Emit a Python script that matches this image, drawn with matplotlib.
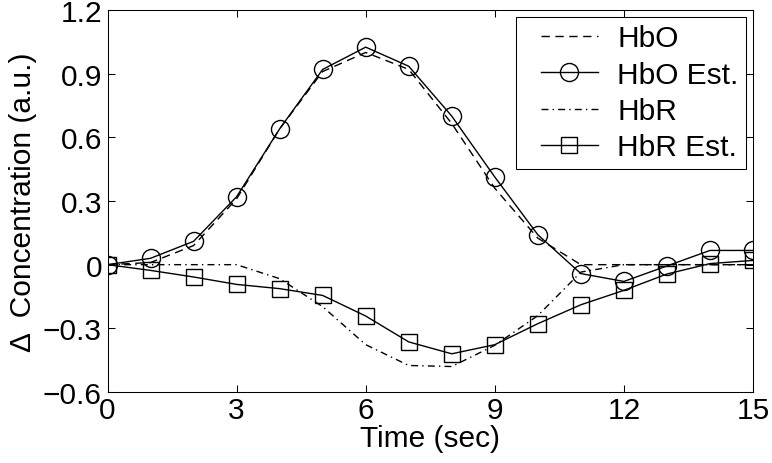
import numpy as np
import matplotlib
matplotlib.use("Agg")
import matplotlib.pyplot as plt
from matplotlib.lines import Line2D
from matplotlib.legend_handler import HandlerLine2D

# time axis (sec)
t = [0, 1, 2, 3, 4, 5, 6, 7, 8, 9, 10, 11, 12, 13, 14, 15]

# true and estimated responses
hbo_true = [0.0, 0.01, 0.09, 0.31, 0.64, 0.91, 1.0, 0.92, 0.665, 0.36, 0.125, 0.0, 0.0, 0.0, 0.0, 0.0]
hbo_est = [0.0, 0.03, 0.11, 0.32, 0.64, 0.92, 1.025, 0.935, 0.70, 0.413, 0.141, -0.042, -0.079, -0.006, 0.067, 0.067]
hbr_true = [0.0, 0.0, 0.0, 0.0, -0.066, -0.198, -0.377, -0.475, -0.48, -0.38, -0.24, -0.035, 0.0, 0.0, 0.0, 0.0]
hbr_est = [0.0, -0.027, -0.058, -0.093, -0.113, -0.145, -0.242, -0.364, -0.42, -0.377, -0.278, -0.189, -0.121, -0.044, 0.005, 0.02]

xticks = [0, 3, 6, 9, 12, 15]
yticks = [-0.6, -0.3, 0, 0.3, 0.6, 0.9, 1.2]
ytick_labels = ["\u22120.6", "\u22120.3", "0", "0.3", "0.6", "0.9", "1.2"]

FS = 21.5

plt.rcParams['font.family'] = ['Liberation Sans', 'DejaVu Sans']
plt.rcParams['font.size'] = FS

fig = plt.figure(figsize=(7.72, 4.64), dpi=100)
ax = fig.add_axes([107.5 / 772, 71 / 464, 645.5 / 772, 382 / 464])

ax.plot(t, hbo_true, color='k', lw=1.0, dashes=(6, 4), label='HbO')
ax.plot(t, hbo_est, color='k', lw=1.0, marker='o', ms=13, mfc='none', mec='k', mew=1.0, label='HbO Est.')
ax.plot(t, hbr_true, color='k', lw=1.0, dashes=(5, 3, 1, 3), label='HbR')
ax.plot(t, hbr_est, color='k', lw=1.0, marker='s', ms=11, mfc='none', mec='k', mew=1.0, label='HbR Est.')

ax.set_xlim(0, 15)
ax.set_ylim(-0.6, 1.2)
ax.set_xticks(xticks)
ax.set_yticks(yticks)
ax.set_yticklabels(ytick_labels)
ax.tick_params(direction='in', top=True, right=True, length=5, width=0.75, labelsize=FS)
ax.tick_params(axis='y', pad=4)
ax.tick_params(axis='x', pad=3)
for s in ax.spines.values():
    s.set_linewidth(0.75)

ax.set_xlabel('Time (sec)', fontsize=FS, labelpad=0)
ax.set_ylabel('\u0394  Concentration (a.u.)', fontsize=FS, labelpad=4)

# xpad leaves a blank gap left of each legend line, like the MATLAB legend
leg = ax.legend(loc='upper right', bbox_to_anchor=(0.989, 0.982), borderaxespad=0,
                fontsize=FS, frameon=True, fancybox=False, framealpha=1,
                handlelength=2.5, handletextpad=0.65, labelspacing=0.28, borderpad=0.25,
                handler_map={Line2D: HandlerLine2D(xpad=0.6)})
leg.get_frame().set_edgecolor('k')
leg.get_frame().set_linewidth(0.75)

fig.savefig('out.png', dpi=100)
